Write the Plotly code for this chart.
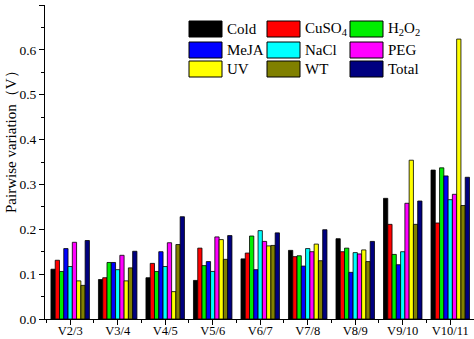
import plotly.graph_objects as go

categories = ["V2/3", "V3/4", "V4/5", "V5/6", "V6/7", "V7/8", "V8/9", "V9/10", "V10/11"]

series_names = ["Cold", "CuSO<sub>4</sub>", "H<sub>2</sub>O<sub>2</sub>", "MeJA", "NaCl", "PEG", "UV", "WT", "Total"]
series_colors = ["#000000", "#FF0000", "#00EE00", "#0000FF", "#00FFFF", "#FF00FF", "#FFFF00", "#808000", "#000080"]

cold  = [0.111, 0.088, 0.092, 0.086, 0.134, 0.153, 0.179, 0.269, 0.332]
cuso4 = [0.131, 0.092, 0.124, 0.158, 0.147, 0.139, 0.150, 0.211, 0.214]
h2o2  = [0.106, 0.126, 0.106, 0.119, 0.185, 0.141, 0.158, 0.144, 0.337]
meja  = [0.157, 0.126, 0.150, 0.128, 0.110, 0.118, 0.104, 0.121, 0.319]
nacl  = [0.117, 0.110, 0.117, 0.106, 0.197, 0.157, 0.148, 0.150, 0.266]
peg   = [0.171, 0.142, 0.170, 0.183, 0.173, 0.150, 0.145, 0.258, 0.278]
uv    = [0.085, 0.085, 0.061, 0.177, 0.163, 0.167, 0.154, 0.354, 0.624]
wt    = [0.075, 0.114, 0.166, 0.133, 0.164, 0.130, 0.128, 0.211, 0.253]
total = [0.175, 0.151, 0.228, 0.186, 0.192, 0.199, 0.173, 0.263, 0.316]

series_values = [cold, cuso4, h2o2, meja, nacl, peg, uv, wt, total]

W, H = 474, 339
ML, MR, MT, MB = 45, 0, 5, 20
FONT = "Liberation Serif, Times New Roman, serif"

xpos = list(range(len(categories)))

fig = go.Figure()
for name, color, vals in zip(series_names, series_colors, series_values):
    fig.add_trace(go.Bar(
        x=xpos, y=vals, name=name,
        marker=dict(color=color, line=dict(color="#000000", width=0.8)),
        showlegend=False,
    ))

def xp(px):
    return (px - ML) / (W - ML - MR)

def yp(py):
    return (H - MB - py) / (H - MB - MT)

shapes = []
annotations = []
col_x = [189, 267, 350]
row_top = [21, 42, 61]
sw_w, sw_h = 33, 16
for i, (name, color) in enumerate(zip(series_names, series_colors)):
    r, c = divmod(i, 3)
    x0 = col_x[c]
    y0 = row_top[r]
    shapes.append(dict(type="rect", xref="paper", yref="paper",
                       x0=xp(x0), x1=xp(x0 + sw_w), y0=yp(y0 + sw_h), y1=yp(y0),
                       fillcolor=color, line=dict(color="#000000", width=1)))
    annotations.append(dict(xref="paper", yref="paper", x=xp(x0 + sw_w + 3), y=yp(y0 + sw_h / 2),
                            text=name, showarrow=False, xanchor="left", yanchor="middle",
                            font=dict(family=FONT, size=15, color="#000000")))

annotations.append(dict(xref="paper", yref="paper", x=xp(11), y=yp(138),
                        text="Pairwise variation（V）", textangle=-90, showarrow=False,
                        xanchor="center", yanchor="middle",
                        font=dict(family=FONT, size=15, color="#000000")))

fig.update_layout(
    width=W, height=H,
    margin=dict(l=ML, r=MR, t=MT, b=MB, pad=0),
    paper_bgcolor="white", plot_bgcolor="white",
    barmode="group", bargap=0.19, bargroupgap=0,
    font=dict(family=FONT, color="#000000"),
    shapes=shapes, annotations=annotations,
)
fig.update_xaxes(
    range=[-0.53, 8.5], tickmode="array", tickvals=xpos, ticktext=categories,
    showline=True, linecolor="#000000", linewidth=1, mirror=False,
    ticks="outside", ticklen=5, tickcolor="#000000", tickwidth=1,
    minor=dict(ticks="outside", ticklen=3, tickcolor="#000000", tick0=0.5, dtick=1),
    showgrid=False, zeroline=False, automargin=False,
    ticklabelstandoff=-5,
    tickfont=dict(family=FONT, size=12.5, color="#000000"),
)
fig.update_yaxes(
    range=[0, 0.7], dtick=0.1, tick0=0, tickformat=".1f",
    showline=True, linecolor="#000000", linewidth=1,
    ticks="outside", ticklen=5, tickcolor="#000000", tickwidth=1,
    minor=dict(ticks="outside", ticklen=3, tickcolor="#000000", dtick=0.05),
    showgrid=False, zeroline=False, automargin=False,
    tickfont=dict(family=FONT, size=13.5, color="#000000"),
)

fig.write_html("out.html")
